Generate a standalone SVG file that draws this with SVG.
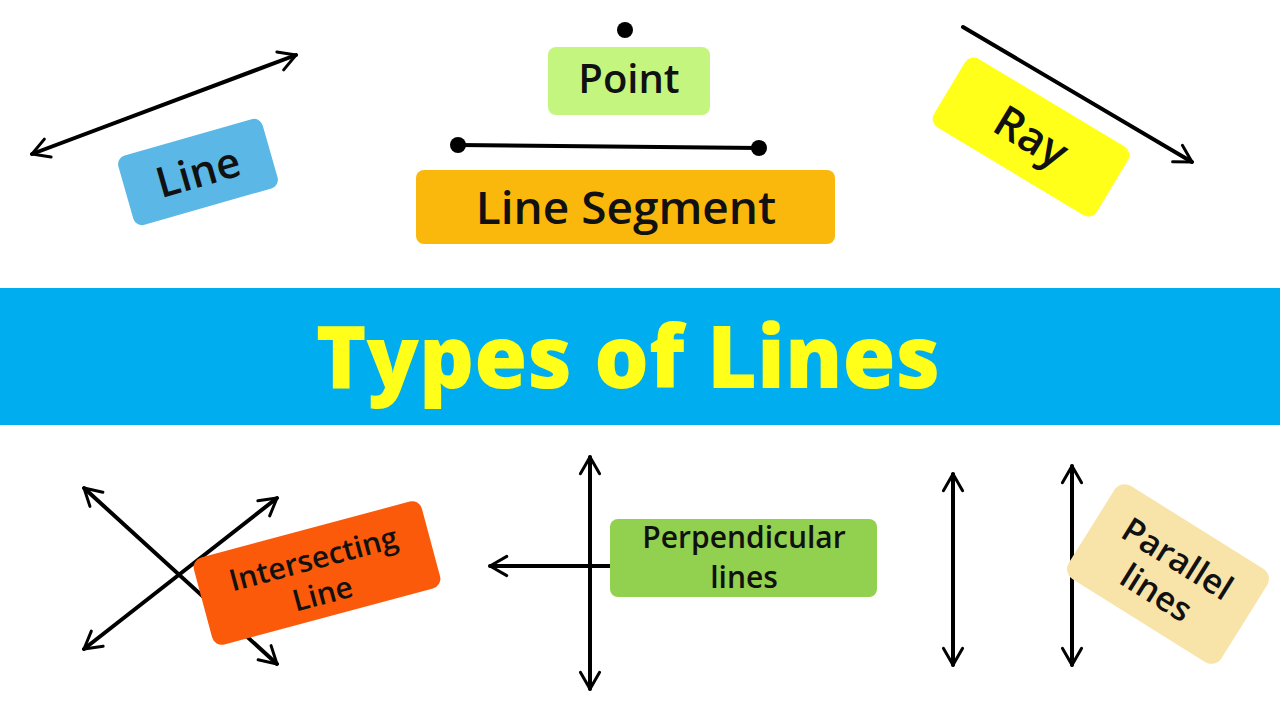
<svg xmlns="http://www.w3.org/2000/svg" width="1280" height="720" viewBox="0 0 1280 720">
<style>
.ln{stroke:#000;stroke-width:4;fill:none;stroke-linecap:round}
.t{font-family:"Open Sans","Liberation Sans",sans-serif;font-weight:600;fill:#111;text-anchor:middle}
</style>
<defs>
<marker id="ah" viewBox="0 0 20 20" refX="17" refY="10" markerWidth="6" markerHeight="6" markerUnits="strokeWidth" orient="auto-start-reverse">
<path d="M3,2 L17,10 L3,18" fill="none" stroke="#000" stroke-width="2.5" stroke-linecap="round" stroke-linejoin="round"/>
</marker>
</defs>
<rect width="1280" height="720" fill="#fff"/>
<g id="banner">
<rect x="0" y="288" width="1280" height="137" fill="#00aeef"/>
<text x="628" y="388" font-family="'Open Sans','Liberation Sans',sans-serif" font-weight="800" font-size="86" fill="#ffff1a" text-anchor="middle">Types of Lines</text>
</g>
<g id="connectors">
<line class="ln" x1="32" y1="154" x2="296" y2="55" marker-start="url(#ah)" marker-end="url(#ah)"/>
<line class="ln" x1="458" y1="145" x2="759" y2="148"/>
<line class="ln" x1="963" y1="27" x2="1192" y2="162" marker-end="url(#ah)"/>
<line class="ln" x1="84" y1="488" x2="277" y2="664" marker-start="url(#ah)" marker-end="url(#ah)"/>
<line class="ln" x1="84" y1="649" x2="277" y2="498" marker-start="url(#ah)" marker-end="url(#ah)"/>
<line class="ln" x1="590" y1="457" x2="590" y2="689" marker-start="url(#ah)" marker-end="url(#ah)"/>
<line class="ln" x1="490" y1="566" x2="692" y2="566" marker-start="url(#ah)" marker-end="url(#ah)"/>
<line class="ln" x1="953" y1="474" x2="953" y2="665" marker-start="url(#ah)" marker-end="url(#ah)"/>
<line class="ln" x1="1072" y1="466" x2="1072" y2="665" marker-start="url(#ah)" marker-end="url(#ah)"/>
</g>
<g id="point">
<circle cx="625" cy="30" r="8" fill="#000"/>
<rect x="548" y="47" width="162" height="68" rx="8" fill="#c4f57f"/>
<text class="t" x="629" y="93" font-size="40">Point</text>
</g>
<g id="segment">
<circle cx="458" cy="145" r="8" fill="#000"/>
<circle cx="759" cy="148" r="8" fill="#000"/>
<rect x="416" y="170" width="419" height="74" rx="8" fill="#fbb80c"/>
<text class="t" x="626" y="224" font-size="46">Line Segment</text>
</g>
<g id="line" transform="translate(198,172) rotate(-16)">
<rect x="-75" y="-36" width="150" height="72" rx="9" fill="#5bb8e6"/>
<text class="t" x="0" y="15" font-size="42">Line</text>
</g>
<g id="ray" transform="translate(1031,137) rotate(31)">
<rect x="-95" y="-40" width="190" height="80" rx="10" fill="#ffff1a"/>
<text class="t" x="0" y="15" font-size="44">Ray</text>
</g>
<g id="intersecting" transform="translate(317,573) rotate(-15)">
<rect x="-118" y="-45" width="236" height="90" rx="10" fill="#fb5a0a"/>
<text class="t" x="0" y="-4" font-size="30">Intersecting</text>
<text class="t" x="0" y="32" font-size="30">Line</text>
</g>
<g id="perpendicular">
<rect x="610" y="519" width="267" height="78" rx="8" fill="#92d050"/>
<text class="t" x="744" y="548" font-size="30">Perpendicular</text>
<text class="t" x="744" y="588" font-size="30">lines</text>
</g>
<g id="parallel" transform="translate(1168,574) rotate(32)">
<rect x="-90" y="-55" width="180" height="110" rx="12" fill="#f8e4a8"/>
<text class="t" x="0" y="-6" font-size="34">Parallel</text>
<text class="t" x="0" y="34" font-size="34">lines</text>
</g>
</svg>
